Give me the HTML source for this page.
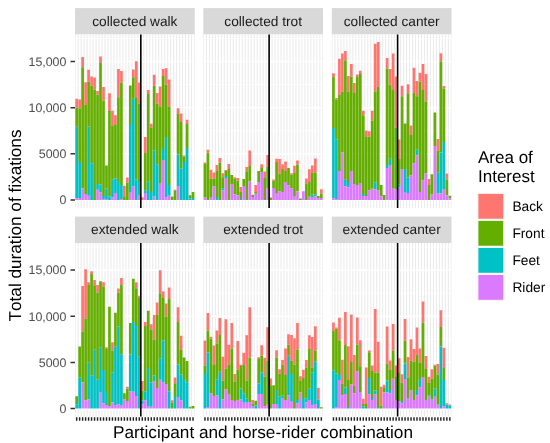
<!DOCTYPE html>
<html lang="en"><head><meta charset="utf-8"><title>Total duration of fixations by area of interest</title>
<style>html,body{margin:0;padding:0;background:#fff}body{width:550px;height:443px;overflow:hidden}svg{display:block}text{font-family:"Liberation Sans", Arial, Helvetica, sans-serif;font-kerning:none;text-rendering:geometricPrecision}</style></head><body>
<svg width="550" height="443" viewBox="0 0 550 443">
<rect width="550" height="443" fill="#fff"/>
<g>
<rect x="75" y="8.1" width="119.7" height="26.4" fill="#D9D9D9"/>
<text x="134.85" y="25.8" font-size="13.7" text-anchor="middle" fill="#1A1A1A">collected walk</text>
<rect x="75" y="34.5" width="119.7" height="173.5" fill="#EBEBEB"/>
<path d="M75 176.93h119.7M75 130.77h119.7M75 84.62h119.7M75 38.47h119.7" stroke="#FFFFFF" stroke-width="0.8" fill="none"/>
<path d="M75 200h119.7M75 153.85h119.7M75 107.7h119.7M75 61.55h119.7" stroke="#FFFFFF" stroke-width="1.6" fill="none"/>
<path d="M76.65 34.5V208M79.63 34.5V208M82.62 34.5V208M85.6 34.5V208M88.59 34.5V208M91.57 34.5V208M94.55 34.5V208M97.54 34.5V208M100.52 34.5V208M103.51 34.5V208M106.49 34.5V208M109.47 34.5V208M112.46 34.5V208M115.44 34.5V208M118.43 34.5V208M121.41 34.5V208M124.39 34.5V208M127.38 34.5V208M130.36 34.5V208M133.35 34.5V208M136.33 34.5V208M139.31 34.5V208M142.3 34.5V208M145.28 34.5V208M148.27 34.5V208M151.25 34.5V208M154.23 34.5V208M157.22 34.5V208M160.2 34.5V208M163.19 34.5V208M166.17 34.5V208M169.15 34.5V208M172.14 34.5V208M175.12 34.5V208M178.11 34.5V208M181.09 34.5V208M184.07 34.5V208M187.06 34.5V208M190.04 34.5V208M193.03 34.5V208" stroke="#FFFFFF" stroke-width="1.9" fill="none"/>
<path d="M75.31 98.8h2.68V107.5h-2.68zM78.29 99.5h2.68V108.2h-2.68zM81.28 57h2.68V67.2h-2.68zM84.26 82.3h2.68V104.9h-2.68zM87.25 69.8h2.68V81.5h-2.68zM90.23 76.5h2.68V85.7h-2.68zM93.21 77.4h2.68V89.5h-2.68zM96.2 91.1h2.68V94.7h-2.68zM99.18 56.6h2.68V63h-2.68zM102.17 87h2.68V100.5h-2.68zM108.13 93.3h2.68V111h-2.68zM111.12 110.8h2.68V125.9h-2.68zM114.1 115.2h2.68V124.3h-2.68zM117.09 68.9h2.68V97.3h-2.68zM120.07 71h2.68V82.8h-2.68zM123.05 185.8h2.68V197h-2.68zM126.04 177.6h2.68V182.8h-2.68zM132.01 69.6h2.68V77.2h-2.68zM134.99 61.3h2.68V97.3h-2.68zM137.97 82.4h2.68V103.4h-2.68zM140.96 197.3h2.68V200h-2.68zM143.94 137.1h2.68V153h-2.68zM146.93 90.1h2.68V94h-2.68zM149.91 123.7h2.68V127.5h-2.68zM152.89 74.8h2.68V85.7h-2.68zM155.88 92.9h2.68V103.8h-2.68zM158.86 86.4h2.68V107.1h-2.68zM161.85 68.9h2.68V75.9h-2.68zM164.83 68.3h2.68V84.6h-2.68zM167.81 79.4h2.68V106.7h-2.68zM173.78 189.7h2.68V190.3h-2.68zM176.77 108.2h2.68V114.1h-2.68zM179.75 113.5h2.68V121.9h-2.68zM182.73 155.6h2.68V156.5h-2.68zM185.72 119.7h2.68V124h-2.68z" fill="#FF7670"/>
<path d="M75.31 107.5h2.68V126.8h-2.68zM78.29 108.2h2.68V162.1h-2.68zM81.28 67.2h2.68V188.5h-2.68zM84.26 104.9h2.68V194h-2.68zM87.25 81.5h2.68V126.5h-2.68zM90.23 85.7h2.68V163.2h-2.68zM93.21 89.5h2.68V200h-2.68zM96.2 94.7h2.68V184h-2.68zM99.18 63h2.68V184.6h-2.68zM102.17 100.5h2.68V195.9h-2.68zM105.15 165.4h2.68V188.6h-2.68zM108.13 111h2.68V196.4h-2.68zM111.12 125.9h2.68V179.7h-2.68zM114.1 124.3h2.68V178.4h-2.68zM117.09 97.3h2.68V181.1h-2.68zM120.07 82.8h2.68V185h-2.68zM123.05 197h2.68V200h-2.68zM126.04 182.8h2.68V200h-2.68zM129.02 85.4h2.68V125.1h-2.68zM132.01 77.2h2.68V98.8h-2.68zM134.99 97.3h2.68V179.7h-2.68zM137.97 103.4h2.68V181.1h-2.68zM143.94 153h2.68V190.7h-2.68zM146.93 94h2.68V181.3h-2.68zM149.91 127.5h2.68V192h-2.68zM152.89 85.7h2.68V150.2h-2.68zM155.88 103.8h2.68V164.8h-2.68zM158.86 107.1h2.68V183.8h-2.68zM161.85 75.9h2.68V149.1h-2.68zM164.83 84.6h2.68V137.1h-2.68zM167.81 106.7h2.68V185h-2.68zM170.8 196.5h2.68V200h-2.68zM173.78 190.3h2.68V200h-2.68zM176.77 114.1h2.68V154.5h-2.68zM179.75 121.9h2.68V168.8h-2.68zM182.73 156.5h2.68V162.1h-2.68zM185.72 124h2.68V148h-2.68zM188.7 195.3h2.68V198.6h-2.68zM191.69 192h2.68V198h-2.68z" fill="#64AE00"/>
<path d="M75.31 126.8h2.68V198.5h-2.68zM78.29 162.1h2.68V198h-2.68zM87.25 126.5h2.68V195.8h-2.68zM90.23 163.2h2.68V200h-2.68zM96.2 184h2.68V189.8h-2.68zM99.18 184.6h2.68V192.6h-2.68zM102.17 195.9h2.68V199h-2.68zM105.15 188.6h2.68V199h-2.68zM108.13 196.4h2.68V200h-2.68zM111.12 179.7h2.68V197.5h-2.68zM114.1 178.4h2.68V193h-2.68zM117.09 181.1h2.68V200h-2.68zM120.07 185h2.68V199h-2.68zM129.02 125.1h2.68V192.8h-2.68zM132.01 98.8h2.68V186.5h-2.68zM134.99 179.7h2.68V200h-2.68zM137.97 181.1h2.68V195.8h-2.68zM143.94 190.7h2.68V193.1h-2.68zM146.93 181.3h2.68V200h-2.68zM149.91 192h2.68V200h-2.68zM152.89 150.2h2.68V196.4h-2.68zM155.88 164.8h2.68V200h-2.68zM161.85 149.1h2.68V160h-2.68zM164.83 137.1h2.68V197.2h-2.68zM167.81 185h2.68V195.8h-2.68zM176.77 154.5h2.68V186h-2.68zM179.75 168.8h2.68V200h-2.68zM182.73 162.1h2.68V200h-2.68zM185.72 148h2.68V200h-2.68zM188.7 198.6h2.68V200h-2.68zM191.69 198h2.68V200h-2.68z" fill="#00C1C5"/>
<path d="M75.31 198.5h2.68V200h-2.68zM78.29 198h2.68V200h-2.68zM81.28 188.5h2.68V200h-2.68zM84.26 194h2.68V200h-2.68zM87.25 195.8h2.68V200h-2.68zM96.2 189.8h2.68V200h-2.68zM99.18 192.6h2.68V200h-2.68zM102.17 199h2.68V200h-2.68zM105.15 199h2.68V200h-2.68zM111.12 197.5h2.68V200h-2.68zM114.1 193h2.68V200h-2.68zM120.07 199h2.68V200h-2.68zM129.02 192.8h2.68V200h-2.68zM132.01 186.5h2.68V200h-2.68zM137.97 195.8h2.68V200h-2.68zM143.94 193.1h2.68V200h-2.68zM152.89 196.4h2.68V200h-2.68zM158.86 183.8h2.68V200h-2.68zM161.85 160h2.68V200h-2.68zM164.83 197.2h2.68V200h-2.68zM167.81 195.8h2.68V200h-2.68zM176.77 186h2.68V200h-2.68z" fill="#DC7AFF"/>
<path d="M140.81 34.5V208" stroke="#000" stroke-width="1.6" fill="none"/>
</g>
<g>
<rect x="203.3" y="8.1" width="119.7" height="26.4" fill="#D9D9D9"/>
<text x="263.15" y="25.8" font-size="13.7" text-anchor="middle" fill="#1A1A1A">collected trot</text>
<rect x="203.3" y="34.5" width="119.7" height="173.5" fill="#EBEBEB"/>
<path d="M203.3 176.93h119.7M203.3 130.77h119.7M203.3 84.62h119.7M203.3 38.47h119.7" stroke="#FFFFFF" stroke-width="0.8" fill="none"/>
<path d="M203.3 200h119.7M203.3 153.85h119.7M203.3 107.7h119.7M203.3 61.55h119.7" stroke="#FFFFFF" stroke-width="1.6" fill="none"/>
<path d="M204.95 34.5V208M207.93 34.5V208M210.92 34.5V208M213.9 34.5V208M216.89 34.5V208M219.87 34.5V208M222.85 34.5V208M225.84 34.5V208M228.82 34.5V208M231.81 34.5V208M234.79 34.5V208M237.77 34.5V208M240.76 34.5V208M243.74 34.5V208M246.73 34.5V208M249.71 34.5V208M252.69 34.5V208M255.68 34.5V208M258.66 34.5V208M261.65 34.5V208M264.63 34.5V208M267.61 34.5V208M270.6 34.5V208M273.58 34.5V208M276.57 34.5V208M279.55 34.5V208M282.53 34.5V208M285.52 34.5V208M288.5 34.5V208M291.49 34.5V208M294.47 34.5V208M297.45 34.5V208M300.44 34.5V208M303.42 34.5V208M306.41 34.5V208M309.39 34.5V208M312.37 34.5V208M315.36 34.5V208M318.34 34.5V208M321.33 34.5V208" stroke="#FFFFFF" stroke-width="1.9" fill="none"/>
<path d="M203.61 162.4h2.68V164.1h-2.68zM206.59 149.7h2.68V152.8h-2.68zM209.58 169.8h2.68V178.8h-2.68zM212.56 172.5h2.68V178.8h-2.68zM215.55 165h2.68V170.9h-2.68zM218.53 158.1h2.68V162.8h-2.68zM221.51 173.3h2.68V177.2h-2.68zM224.5 170h2.68V170.9h-2.68zM227.48 164.1h2.68V168.9h-2.68zM233.45 177.2h2.68V178.8h-2.68zM236.43 178.1h2.68V180.7h-2.68zM239.42 186.9h2.68V191.9h-2.68zM245.39 167h2.68V171.2h-2.68zM248.37 150.6h2.68V165.9h-2.68zM254.34 185h2.68V191.9h-2.68zM260.31 164.3h2.68V168h-2.68zM263.29 171.5h2.68V178.1h-2.68zM266.27 154.9h2.68V166.7h-2.68zM272.24 179.4h2.68V180.7h-2.68zM275.23 158.8h2.68V162h-2.68zM278.21 159.1h2.68V173.8h-2.68zM281.19 164.3h2.68V168.3h-2.68zM284.18 161.5h2.68V170.9h-2.68zM290.15 173.3h2.68V174.8h-2.68zM293.13 165.7h2.68V172.9h-2.68zM296.11 160.4h2.68V164.7h-2.68zM305.07 178.4h2.68V184h-2.68zM308.05 169.3h2.68V182h-2.68zM311.03 165.4h2.68V172.9h-2.68zM314.02 158.4h2.68V172.5h-2.68zM319.99 189.2h2.68V193.8h-2.68z" fill="#FF7670"/>
<path d="M203.61 164.1h2.68V197.4h-2.68zM206.59 152.8h2.68V200h-2.68zM209.58 178.8h2.68V197.7h-2.68zM212.56 178.8h2.68V186.6h-2.68zM215.55 170.9h2.68V197.1h-2.68zM218.53 162.8h2.68V200h-2.68zM221.51 177.2h2.68V188.2h-2.68zM224.5 170.9h2.68V176.1h-2.68zM227.48 168.9h2.68V200h-2.68zM230.47 175.1h2.68V184h-2.68zM233.45 178.8h2.68V194.5h-2.68zM236.43 180.7h2.68V195.5h-2.68zM239.42 191.9h2.68V199h-2.68zM242.4 179h2.68V186h-2.68zM245.39 171.2h2.68V200h-2.68zM248.37 165.9h2.68V181.6h-2.68zM251.35 194.7h2.68V197.1h-2.68zM254.34 191.9h2.68V193.8h-2.68zM257.32 170.9h2.68V182h-2.68zM260.31 168h2.68V171.9h-2.68zM263.29 178.1h2.68V200h-2.68zM266.27 166.7h2.68V187.9h-2.68zM269.26 197.4h2.68V200h-2.68zM272.24 180.7h2.68V187.9h-2.68zM275.23 162h2.68V193.8h-2.68zM278.21 173.8h2.68V191.2h-2.68zM281.19 168.3h2.68V191.9h-2.68zM284.18 170.9h2.68V182h-2.68zM287.16 168h2.68V185.3h-2.68zM290.15 174.8h2.68V188.6h-2.68zM293.13 172.9h2.68V196.8h-2.68zM296.11 164.7h2.68V191.2h-2.68zM299.1 198.4h2.68V200h-2.68zM305.07 184h2.68V200h-2.68zM308.05 182h2.68V196.8h-2.68zM311.03 172.9h2.68V194.5h-2.68zM314.02 172.5h2.68V194.7h-2.68zM317 196h2.68V198.5h-2.68zM319.99 193.8h2.68V198h-2.68z" fill="#64AE00"/>
<path d="M215.55 197.1h2.68V200h-2.68zM221.51 188.2h2.68V190.5h-2.68zM224.5 176.1h2.68V178.1h-2.68zM239.42 199h2.68V200h-2.68zM311.03 194.5h2.68V197.7h-2.68zM314.02 194.7h2.68V196.4h-2.68z" fill="#00C1C5"/>
<path d="M203.61 197.4h2.68V200h-2.68zM209.58 197.7h2.68V200h-2.68zM212.56 186.6h2.68V200h-2.68zM221.51 190.5h2.68V200h-2.68zM224.5 178.1h2.68V200h-2.68zM230.47 184h2.68V200h-2.68zM233.45 194.5h2.68V200h-2.68zM236.43 195.5h2.68V200h-2.68zM242.4 186h2.68V200h-2.68zM248.37 181.6h2.68V200h-2.68zM251.35 197.1h2.68V200h-2.68zM254.34 193.8h2.68V200h-2.68zM257.32 182h2.68V200h-2.68zM260.31 171.9h2.68V200h-2.68zM266.27 187.9h2.68V200h-2.68zM272.24 187.9h2.68V200h-2.68zM275.23 193.8h2.68V200h-2.68zM278.21 191.2h2.68V200h-2.68zM281.19 191.9h2.68V200h-2.68zM284.18 182h2.68V200h-2.68zM287.16 185.3h2.68V200h-2.68zM290.15 188.6h2.68V200h-2.68zM293.13 196.8h2.68V200h-2.68zM296.11 191.2h2.68V200h-2.68zM302.08 191.2h2.68V200h-2.68zM308.05 196.8h2.68V200h-2.68zM311.03 197.7h2.68V200h-2.68zM314.02 196.4h2.68V200h-2.68zM317 198.5h2.68V200h-2.68zM319.99 198h2.68V200h-2.68z" fill="#DC7AFF"/>
<path d="M269.11 34.5V208" stroke="#000" stroke-width="1.6" fill="none"/>
</g>
<g>
<rect x="331.8" y="8.1" width="119.7" height="26.4" fill="#D9D9D9"/>
<text x="391.65" y="25.8" font-size="13.7" text-anchor="middle" fill="#1A1A1A">collected canter</text>
<rect x="331.8" y="34.5" width="119.7" height="173.5" fill="#EBEBEB"/>
<path d="M331.8 176.93h119.7M331.8 130.77h119.7M331.8 84.62h119.7M331.8 38.47h119.7" stroke="#FFFFFF" stroke-width="0.8" fill="none"/>
<path d="M331.8 200h119.7M331.8 153.85h119.7M331.8 107.7h119.7M331.8 61.55h119.7" stroke="#FFFFFF" stroke-width="1.6" fill="none"/>
<path d="M333.45 34.5V208M336.43 34.5V208M339.42 34.5V208M342.4 34.5V208M345.39 34.5V208M348.37 34.5V208M351.35 34.5V208M354.34 34.5V208M357.32 34.5V208M360.31 34.5V208M363.29 34.5V208M366.27 34.5V208M369.26 34.5V208M372.24 34.5V208M375.23 34.5V208M378.21 34.5V208M381.19 34.5V208M384.18 34.5V208M387.16 34.5V208M390.15 34.5V208M393.13 34.5V208M396.11 34.5V208M399.1 34.5V208M402.08 34.5V208M405.07 34.5V208M408.05 34.5V208M411.03 34.5V208M414.02 34.5V208M417 34.5V208M419.99 34.5V208M422.97 34.5V208M425.95 34.5V208M428.94 34.5V208M431.92 34.5V208M434.91 34.5V208M437.89 34.5V208M440.87 34.5V208M443.86 34.5V208M446.84 34.5V208M449.83 34.5V208" stroke="#FFFFFF" stroke-width="1.9" fill="none"/>
<path d="M332.11 73.3h2.68V77h-2.68zM335.09 97.9h2.68V99.5h-2.68zM338.08 58.7h2.68V95.1h-2.68zM341.06 53.6h2.68V91.8h-2.68zM344.05 51h2.68V60.2h-2.68zM347.03 75.9h2.68V91.8h-2.68zM350.01 63.9h2.68V76.5h-2.68zM353 83.1h2.68V92.9h-2.68zM355.98 74.4h2.68V77h-2.68zM358.97 70.7h2.68V73.9h-2.68zM361.95 110.8h2.68V115.2h-2.68zM364.93 130.5h2.68V137.1h-2.68zM367.92 131.2h2.68V136.4h-2.68zM370.9 110.8h2.68V120.5h-2.68zM373.89 43.8h2.68V91.4h-2.68zM376.87 42.1h2.68V87h-2.68zM385.82 58h2.68V68.5h-2.68zM388.81 68.9h2.68V84.8h-2.68zM391.79 53.6h2.68V90.1h-2.68zM394.77 76.5h2.68V127.7h-2.68zM397.76 139.5h2.68V159h-2.68zM400.74 85.7h2.68V96.2h-2.68zM406.71 84.2h2.68V93.3h-2.68zM409.69 125.6h2.68V134.9h-2.68zM412.68 67.8h2.68V92.9h-2.68zM415.66 80.9h2.68V96.2h-2.68zM418.65 72.8h2.68V81.6h-2.68zM421.63 64.1h2.68V90.1h-2.68zM424.61 73.9h2.68V101.6h-2.68zM427.6 179h2.68V185.1h-2.68zM436.55 139h2.68V150.6h-2.68zM439.53 53.2h2.68V61.3h-2.68zM442.52 85.9h2.68V88.5h-2.68zM445.5 173.6h2.68V179.7h-2.68z" fill="#FF7670"/>
<path d="M332.11 77h2.68V128.1h-2.68zM335.09 99.5h2.68V139.3h-2.68zM338.08 95.1h2.68V171h-2.68zM341.06 91.8h2.68V152.5h-2.68zM344.05 60.2h2.68V179.7h-2.68zM347.03 91.8h2.68V181.9h-2.68zM350.01 76.5h2.68V171h-2.68zM353 92.9h2.68V184h-2.68zM355.98 77h2.68V185h-2.68zM358.97 73.9h2.68V182.9h-2.68zM361.95 115.2h2.68V193.9h-2.68zM364.93 137.1h2.68V195.9h-2.68zM367.92 136.4h2.68V190.3h-2.68zM370.9 120.5h2.68V188.7h-2.68zM373.89 91.4h2.68V182.2h-2.68zM376.87 87h2.68V190.5h-2.68zM379.85 185h2.68V196.6h-2.68zM382.84 195h2.68V200h-2.68zM385.82 68.5h2.68V165.1h-2.68zM388.81 84.8h2.68V158.8h-2.68zM391.79 90.1h2.68V188.7h-2.68zM394.77 127.7h2.68V189.4h-2.68zM397.76 159h2.68V184.8h-2.68zM400.74 96.2h2.68V168.9h-2.68zM403.73 123.5h2.68V169.1h-2.68zM406.71 93.3h2.68V177.6h-2.68zM409.69 134.9h2.68V175.2h-2.68zM412.68 92.9h2.68V163.3h-2.68zM415.66 96.2h2.68V149.7h-2.68zM418.65 81.6h2.68V192h-2.68zM421.63 90.1h2.68V180.2h-2.68zM424.61 101.6h2.68V173.4h-2.68zM427.6 185.1h2.68V200h-2.68zM430.58 174.3h2.68V194.6h-2.68zM433.57 112.6h2.68V146.1h-2.68zM436.55 150.6h2.68V172.8h-2.68zM439.53 61.3h2.68V152.6h-2.68zM442.52 88.5h2.68V142.1h-2.68zM445.5 179.7h2.68V195.4h-2.68zM448.49 195.8h2.68V198.6h-2.68z" fill="#64AE00"/>
<path d="M332.11 128.1h2.68V198.2h-2.68zM335.09 139.3h2.68V199h-2.68zM344.05 179.7h2.68V186.3h-2.68zM347.03 181.9h2.68V187.4h-2.68zM361.95 193.9h2.68V196.1h-2.68zM373.89 182.2h2.68V189.2h-2.68zM385.82 165.1h2.68V168h-2.68zM388.81 158.8h2.68V165.1h-2.68zM397.76 184.8h2.68V187.4h-2.68zM403.73 169.1h2.68V192.8h-2.68zM406.71 177.6h2.68V193h-2.68zM415.66 149.7h2.68V155.2h-2.68zM436.55 172.8h2.68V193.5h-2.68zM439.53 152.6h2.68V193.5h-2.68zM442.52 142.1h2.68V188.9h-2.68z" fill="#00C1C5"/>
<path d="M332.11 198.2h2.68V200h-2.68zM335.09 199h2.68V200h-2.68zM338.08 171h2.68V200h-2.68zM341.06 152.5h2.68V200h-2.68zM344.05 186.3h2.68V200h-2.68zM347.03 187.4h2.68V200h-2.68zM350.01 171h2.68V200h-2.68zM353 184h2.68V200h-2.68zM355.98 185h2.68V200h-2.68zM358.97 182.9h2.68V200h-2.68zM361.95 196.1h2.68V200h-2.68zM364.93 195.9h2.68V200h-2.68zM367.92 190.3h2.68V200h-2.68zM370.9 188.7h2.68V200h-2.68zM373.89 189.2h2.68V200h-2.68zM376.87 190.5h2.68V200h-2.68zM379.85 196.6h2.68V200h-2.68zM385.82 168h2.68V200h-2.68zM388.81 165.1h2.68V200h-2.68zM391.79 188.7h2.68V200h-2.68zM394.77 189.4h2.68V200h-2.68zM397.76 187.4h2.68V200h-2.68zM400.74 168.9h2.68V200h-2.68zM403.73 192.8h2.68V200h-2.68zM406.71 193h2.68V200h-2.68zM409.69 175.2h2.68V200h-2.68zM412.68 163.3h2.68V200h-2.68zM415.66 155.2h2.68V200h-2.68zM418.65 192h2.68V200h-2.68zM421.63 180.2h2.68V200h-2.68zM424.61 173.4h2.68V200h-2.68zM430.58 194.6h2.68V200h-2.68zM433.57 146.1h2.68V200h-2.68zM436.55 193.5h2.68V200h-2.68zM439.53 193.5h2.68V200h-2.68zM442.52 188.9h2.68V200h-2.68zM445.5 195.4h2.68V200h-2.68zM448.49 198.6h2.68V200h-2.68z" fill="#DC7AFF"/>
<path d="M397.61 34.5V208" stroke="#000" stroke-width="1.6" fill="none"/>
</g>
<text x="66.4" y="204.3" font-size="12.4" text-anchor="end" fill="#4D4D4D">0</text>
<text x="66.4" y="158.15" font-size="12.4" text-anchor="end" fill="#4D4D4D">5000</text>
<text x="66.4" y="112" font-size="12.4" text-anchor="end" fill="#4D4D4D">10,000</text>
<text x="66.4" y="65.85" font-size="12.4" text-anchor="end" fill="#4D4D4D">15,000</text>
<path d="M70.5 200h4.5M70.5 153.85h4.5M70.5 107.7h4.5M70.5 61.55h4.5" stroke="#333" stroke-width="1.5" fill="none"/>
<g>
<rect x="75" y="216.6" width="119.7" height="26.4" fill="#D9D9D9"/>
<text x="134.85" y="234.1" font-size="13.7" text-anchor="middle" fill="#1A1A1A">extended walk</text>
<rect x="75" y="243" width="119.7" height="173.5" fill="#EBEBEB"/>
<path d="M75 385.48h119.7M75 339.32h119.7M75 293.18h119.7M75 247.03h119.7" stroke="#FFFFFF" stroke-width="0.8" fill="none"/>
<path d="M75 408.55h119.7M75 362.4h119.7M75 316.25h119.7M75 270.1h119.7" stroke="#FFFFFF" stroke-width="1.6" fill="none"/>
<path d="M76.65 243V416.5M79.63 243V416.5M82.62 243V416.5M85.6 243V416.5M88.59 243V416.5M91.57 243V416.5M94.55 243V416.5M97.54 243V416.5M100.52 243V416.5M103.51 243V416.5M106.49 243V416.5M109.47 243V416.5M112.46 243V416.5M115.44 243V416.5M118.43 243V416.5M121.41 243V416.5M124.39 243V416.5M127.38 243V416.5M130.36 243V416.5M133.35 243V416.5M136.33 243V416.5M139.31 243V416.5M142.3 243V416.5M145.28 243V416.5M148.27 243V416.5M151.25 243V416.5M154.23 243V416.5M157.22 243V416.5M160.2 243V416.5M163.19 243V416.5M166.17 243V416.5M169.15 243V416.5M172.14 243V416.5M175.12 243V416.5M178.11 243V416.5M181.09 243V416.5M184.07 243V416.5M187.06 243V416.5M190.04 243V416.5M193.03 243V416.5" stroke="#FFFFFF" stroke-width="1.9" fill="none"/>
<path d="M81.28 286h2.68V331.8h-2.68zM84.26 269.2h2.68V318.7h-2.68zM87.25 282.3h2.68V284.9h-2.68zM90.23 271.2h2.68V274h-2.68zM93.21 279.9h2.68V285.3h-2.68zM96.2 284.9h2.68V292.5h-2.68zM102.17 282.3h2.68V286.7h-2.68zM105.15 347.3h2.68V349h-2.68zM111.12 342.3h2.68V350.6h-2.68zM117.09 288.6h2.68V292.5h-2.68zM120.07 277.9h2.68V284.9h-2.68zM126.04 386.8h2.68V388.8h-2.68zM134.99 282.3h2.68V288.2h-2.68zM137.97 295.8h2.68V298h-2.68zM140.96 381h2.68V390.4h-2.68zM143.94 322h2.68V325.9h-2.68zM149.91 324.2h2.68V329.6h-2.68zM152.89 315h2.68V339.5h-2.68zM155.88 302.4h2.68V315h-2.68zM158.86 270.3h2.68V293.2h-2.68zM161.85 291.5h2.68V298h-2.68zM164.83 303.5h2.68V316.5h-2.68zM167.81 287.5h2.68V299.1h-2.68zM170.8 400.2h2.68V402.6h-2.68zM173.78 377.4h2.68V383.9h-2.68zM176.77 307.2h2.68V322h-2.68zM179.75 335.8h2.68V350.1h-2.68z" fill="#FF7670"/>
<path d="M75.31 396.2h2.68V404.2h-2.68zM78.29 346.4h2.68V377.7h-2.68zM81.28 331.8h2.68V382.6h-2.68zM84.26 318.7h2.68V400.5h-2.68zM87.25 284.9h2.68V362.8h-2.68zM90.23 274h2.68V375.8h-2.68zM93.21 285.3h2.68V349.8h-2.68zM96.2 292.5h2.68V379.8h-2.68zM99.18 281.2h2.68V347.8h-2.68zM102.17 286.7h2.68V370h-2.68zM105.15 349h2.68V392h-2.68zM108.13 306.7h2.68V405.9h-2.68zM111.12 350.6h2.68V372.5h-2.68zM114.1 312.8h2.68V346.8h-2.68zM117.09 292.5h2.68V326.4h-2.68zM120.07 284.9h2.68V354.3h-2.68zM123.05 393.3h2.68V399.3h-2.68zM126.04 388.8h2.68V401h-2.68zM129.02 323.1h2.68V354.6h-2.68zM132.01 278.8h2.68V322h-2.68zM134.99 288.2h2.68V325.9h-2.68zM137.97 298h2.68V356.3h-2.68zM140.96 390.4h2.68V400.5h-2.68zM143.94 325.9h2.68V391.2h-2.68zM146.93 310.7h2.68V368h-2.68zM149.91 329.6h2.68V382.6h-2.68zM152.89 339.5h2.68V375.4h-2.68zM155.88 315h2.68V388h-2.68zM158.86 293.2h2.68V358.7h-2.68zM161.85 298h2.68V340.6h-2.68zM164.83 316.5h2.68V384h-2.68zM167.81 299.1h2.68V391.2h-2.68zM170.8 402.6h2.68V408.55h-2.68zM173.78 383.9h2.68V396.9h-2.68zM176.77 322h2.68V364.4h-2.68zM179.75 350.1h2.68V374.5h-2.68zM182.73 357.6h2.68V379h-2.68zM185.72 361.1h2.68V382.3h-2.68zM188.7 406.8h2.68V408.55h-2.68zM191.69 405.9h2.68V408.55h-2.68z" fill="#64AE00"/>
<path d="M75.31 404.2h2.68V408.55h-2.68zM78.29 377.7h2.68V408.55h-2.68zM87.25 362.8h2.68V399.3h-2.68zM90.23 375.8h2.68V408.55h-2.68zM93.21 349.8h2.68V408.55h-2.68zM96.2 379.8h2.68V408.55h-2.68zM99.18 347.8h2.68V392.8h-2.68zM102.17 370h2.68V403.4h-2.68zM105.15 392h2.68V405h-2.68zM111.12 372.5h2.68V402.6h-2.68zM114.1 346.8h2.68V405h-2.68zM117.09 326.4h2.68V404.2h-2.68zM120.07 354.3h2.68V405h-2.68zM129.02 354.6h2.68V391.2h-2.68zM132.01 322h2.68V391.7h-2.68zM134.99 325.9h2.68V396.1h-2.68zM137.97 356.3h2.68V408.55h-2.68zM140.96 400.5h2.68V404.2h-2.68zM143.94 391.2h2.68V400.2h-2.68zM146.93 368h2.68V406.7h-2.68zM149.91 382.6h2.68V406.7h-2.68zM152.89 375.4h2.68V381.5h-2.68zM158.86 358.7h2.68V379.8h-2.68zM161.85 340.6h2.68V382.6h-2.68zM167.81 391.2h2.68V408.55h-2.68zM173.78 396.9h2.68V408.55h-2.68zM176.77 364.4h2.68V396.9h-2.68zM179.75 374.5h2.68V400.5h-2.68zM182.73 379h2.68V408.55h-2.68zM185.72 382.3h2.68V408.55h-2.68z" fill="#00C1C5"/>
<path d="M81.28 382.6h2.68V408.55h-2.68zM84.26 400.5h2.68V408.55h-2.68zM87.25 399.3h2.68V408.55h-2.68zM99.18 392.8h2.68V408.55h-2.68zM102.17 403.4h2.68V408.55h-2.68zM105.15 405h2.68V408.55h-2.68zM108.13 405.9h2.68V408.55h-2.68zM111.12 402.6h2.68V408.55h-2.68zM114.1 405h2.68V408.55h-2.68zM117.09 404.2h2.68V408.55h-2.68zM120.07 405h2.68V408.55h-2.68zM123.05 399.3h2.68V408.55h-2.68zM126.04 401h2.68V408.55h-2.68zM129.02 391.2h2.68V408.55h-2.68zM132.01 391.7h2.68V408.55h-2.68zM134.99 396.1h2.68V408.55h-2.68zM140.96 404.2h2.68V408.55h-2.68zM143.94 400.2h2.68V408.55h-2.68zM146.93 406.7h2.68V408.55h-2.68zM149.91 406.7h2.68V408.55h-2.68zM152.89 381.5h2.68V408.55h-2.68zM155.88 388h2.68V408.55h-2.68zM158.86 379.8h2.68V408.55h-2.68zM161.85 382.6h2.68V408.55h-2.68zM164.83 384h2.68V408.55h-2.68zM176.77 396.9h2.68V408.55h-2.68zM179.75 400.5h2.68V408.55h-2.68z" fill="#DC7AFF"/>
<path d="M140.81 243V416.5" stroke="#000" stroke-width="1.6" fill="none"/>
<path d="M76.65 417.2v3.6M79.63 417.2v3.6M82.62 417.2v3.6M85.6 417.2v3.6M88.59 417.2v3.6M91.57 417.2v3.6M94.55 417.2v3.6M97.54 417.2v3.6M100.52 417.2v3.6M103.51 417.2v3.6M106.49 417.2v3.6M109.47 417.2v3.6M112.46 417.2v3.6M115.44 417.2v3.6M118.43 417.2v3.6M121.41 417.2v3.6M124.39 417.2v3.6M127.38 417.2v3.6M130.36 417.2v3.6M133.35 417.2v3.6M136.33 417.2v3.6M139.31 417.2v3.6M142.3 417.2v3.6M145.28 417.2v3.6M148.27 417.2v3.6M151.25 417.2v3.6M154.23 417.2v3.6M157.22 417.2v3.6M160.2 417.2v3.6M163.19 417.2v3.6M166.17 417.2v3.6M169.15 417.2v3.6M172.14 417.2v3.6M175.12 417.2v3.6M178.11 417.2v3.6M181.09 417.2v3.6M184.07 417.2v3.6M187.06 417.2v3.6M190.04 417.2v3.6M193.03 417.2v3.6" stroke="#222" stroke-width="1.45" fill="none"/>
</g>
<g>
<rect x="203.3" y="216.6" width="119.7" height="26.4" fill="#D9D9D9"/>
<text x="263.15" y="234.1" font-size="13.7" text-anchor="middle" fill="#1A1A1A">extended trot</text>
<rect x="203.3" y="243" width="119.7" height="173.5" fill="#EBEBEB"/>
<path d="M203.3 385.48h119.7M203.3 339.32h119.7M203.3 293.18h119.7M203.3 247.03h119.7" stroke="#FFFFFF" stroke-width="0.8" fill="none"/>
<path d="M203.3 408.55h119.7M203.3 362.4h119.7M203.3 316.25h119.7M203.3 270.1h119.7" stroke="#FFFFFF" stroke-width="1.6" fill="none"/>
<path d="M204.95 243V416.5M207.93 243V416.5M210.92 243V416.5M213.9 243V416.5M216.89 243V416.5M219.87 243V416.5M222.85 243V416.5M225.84 243V416.5M228.82 243V416.5M231.81 243V416.5M234.79 243V416.5M237.77 243V416.5M240.76 243V416.5M243.74 243V416.5M246.73 243V416.5M249.71 243V416.5M252.69 243V416.5M255.68 243V416.5M258.66 243V416.5M261.65 243V416.5M264.63 243V416.5M267.61 243V416.5M270.6 243V416.5M273.58 243V416.5M276.57 243V416.5M279.55 243V416.5M282.53 243V416.5M285.52 243V416.5M288.5 243V416.5M291.49 243V416.5M294.47 243V416.5M297.45 243V416.5M300.44 243V416.5M303.42 243V416.5M306.41 243V416.5M309.39 243V416.5M312.37 243V416.5M315.36 243V416.5M318.34 243V416.5M321.33 243V416.5" stroke="#FFFFFF" stroke-width="1.9" fill="none"/>
<path d="M203.61 340.4h2.68V365.4h-2.68zM206.59 313.1h2.68V330.5h-2.68zM209.58 336.7h2.68V338.8h-2.68zM212.56 345.4h2.68V365h-2.68zM215.55 330.5h2.68V343.6h-2.68zM218.53 317.9h2.68V334.9h-2.68zM221.51 356.7h2.68V380.5h-2.68zM224.5 319.2h2.68V368.6h-2.68zM227.48 344.7h2.68V364.4h-2.68zM230.47 322.9h2.68V348.4h-2.68zM233.45 374h2.68V381.6h-2.68zM236.43 341h2.68V369.7h-2.68zM239.42 364.8h2.68V366h-2.68zM242.4 352.8h2.68V365h-2.68zM245.39 335.3h2.68V380.5h-2.68zM248.37 307.2h2.68V357.6h-2.68zM251.35 400.1h2.68V403.5h-2.68zM257.32 357.2h2.68V358.9h-2.68zM260.31 345.2h2.68V355.6h-2.68zM263.29 357.8h2.68V376.6h-2.68zM266.27 327.3h2.68V361h-2.68zM269.26 378.4h2.68V385.2h-2.68zM275.23 350.2h2.68V357.4h-2.68zM278.21 369.3h2.68V373.7h-2.68zM281.19 360h2.68V364.8h-2.68zM284.18 348.4h2.68V375.1h-2.68zM287.16 334.3h2.68V344.7h-2.68zM290.15 334.9h2.68V360.6h-2.68zM293.13 338.2h2.68V364.8h-2.68zM296.11 322.9h2.68V349.7h-2.68zM299.1 376.2h2.68V381.1h-2.68zM302.08 369.7h2.68V378h-2.68zM305.07 360h2.68V367.8h-2.68zM308.05 335.3h2.68V349.1h-2.68zM311.03 337.1h2.68V367.6h-2.68zM314.02 326.2h2.68V350.6h-2.68zM317 387.7h2.68V399.7h-2.68z" fill="#FF7670"/>
<path d="M203.61 365.4h2.68V374h-2.68zM206.59 330.5h2.68V352.4h-2.68zM209.58 338.8h2.68V393.3h-2.68zM212.56 365h2.68V396h-2.68zM215.55 343.6h2.68V379.3h-2.68zM218.53 334.9h2.68V371.8h-2.68zM221.51 380.5h2.68V399.4h-2.68zM224.5 368.6h2.68V389.3h-2.68zM227.48 364.4h2.68V394.7h-2.68zM230.47 348.4h2.68V400.1h-2.68zM233.45 381.6h2.68V401.8h-2.68zM236.43 369.7h2.68V400.1h-2.68zM239.42 366h2.68V388.5h-2.68zM242.4 365h2.68V393.3h-2.68zM245.39 380.5h2.68V398.7h-2.68zM248.37 357.6h2.68V402.1h-2.68zM251.35 403.5h2.68V406h-2.68zM254.34 400.8h2.68V405.5h-2.68zM257.32 358.9h2.68V383.4h-2.68zM260.31 355.6h2.68V372.5h-2.68zM263.29 376.6h2.68V406.2h-2.68zM266.27 361h2.68V404.8h-2.68zM269.26 385.2h2.68V408.55h-2.68zM272.24 385.3h2.68V404.1h-2.68zM275.23 357.4h2.68V389.9h-2.68zM278.21 373.7h2.68V396.7h-2.68zM281.19 364.8h2.68V395.3h-2.68zM284.18 375.1h2.68V400.1h-2.68zM287.16 344.7h2.68V355.7h-2.68zM290.15 360.6h2.68V373.9h-2.68zM293.13 364.8h2.68V408.55h-2.68zM296.11 349.7h2.68V400.1h-2.68zM299.1 381.1h2.68V392.6h-2.68zM302.08 378h2.68V398h-2.68zM305.07 367.8h2.68V398.7h-2.68zM308.05 349.1h2.68V388.8h-2.68zM311.03 367.6h2.68V372.2h-2.68zM314.02 350.6h2.68V361.8h-2.68zM319.99 407.3h2.68V408.55h-2.68z" fill="#64AE00"/>
<path d="M203.61 374h2.68V408.55h-2.68zM206.59 352.4h2.68V406.9h-2.68zM215.55 379.3h2.68V395.6h-2.68zM218.53 371.8h2.68V408.55h-2.68zM239.42 388.5h2.68V399.4h-2.68zM242.4 393.3h2.68V402.8h-2.68zM245.39 398.7h2.68V402.8h-2.68zM254.34 405.5h2.68V408.55h-2.68zM257.32 383.4h2.68V394h-2.68zM260.31 372.5h2.68V394h-2.68zM275.23 389.9h2.68V404.1h-2.68zM278.21 396.7h2.68V408.55h-2.68zM281.19 395.3h2.68V398h-2.68zM287.16 355.7h2.68V395.3h-2.68zM290.15 373.9h2.68V401.8h-2.68zM296.11 400.1h2.68V403.2h-2.68zM302.08 398h2.68V408.55h-2.68zM305.07 398.7h2.68V402.4h-2.68zM308.05 388.8h2.68V400.1h-2.68zM311.03 372.2h2.68V405.5h-2.68zM314.02 361.8h2.68V404.1h-2.68zM317 399.7h2.68V408.55h-2.68z" fill="#00C1C5"/>
<path d="M206.59 406.9h2.68V408.55h-2.68zM209.58 393.3h2.68V408.55h-2.68zM212.56 396h2.68V408.55h-2.68zM215.55 395.6h2.68V408.55h-2.68zM221.51 399.4h2.68V408.55h-2.68zM224.5 389.3h2.68V408.55h-2.68zM227.48 394.7h2.68V408.55h-2.68zM230.47 400.1h2.68V408.55h-2.68zM233.45 401.8h2.68V408.55h-2.68zM236.43 400.1h2.68V408.55h-2.68zM239.42 399.4h2.68V408.55h-2.68zM242.4 402.8h2.68V408.55h-2.68zM245.39 402.8h2.68V408.55h-2.68zM248.37 402.1h2.68V408.55h-2.68zM251.35 406h2.68V408.55h-2.68zM257.32 394h2.68V408.55h-2.68zM260.31 394h2.68V408.55h-2.68zM263.29 406.2h2.68V408.55h-2.68zM266.27 404.8h2.68V408.55h-2.68zM272.24 404.1h2.68V408.55h-2.68zM275.23 404.1h2.68V408.55h-2.68zM281.19 398h2.68V408.55h-2.68zM284.18 400.1h2.68V408.55h-2.68zM287.16 395.3h2.68V408.55h-2.68zM290.15 401.8h2.68V408.55h-2.68zM296.11 403.2h2.68V408.55h-2.68zM299.1 392.6h2.68V408.55h-2.68zM305.07 402.4h2.68V408.55h-2.68zM308.05 400.1h2.68V408.55h-2.68zM311.03 405.5h2.68V408.55h-2.68zM314.02 404.1h2.68V408.55h-2.68z" fill="#DC7AFF"/>
<path d="M269.11 243V416.5" stroke="#000" stroke-width="1.6" fill="none"/>
<path d="M204.95 417.2v3.6M207.93 417.2v3.6M210.92 417.2v3.6M213.9 417.2v3.6M216.89 417.2v3.6M219.87 417.2v3.6M222.85 417.2v3.6M225.84 417.2v3.6M228.82 417.2v3.6M231.81 417.2v3.6M234.79 417.2v3.6M237.77 417.2v3.6M240.76 417.2v3.6M243.74 417.2v3.6M246.73 417.2v3.6M249.71 417.2v3.6M252.69 417.2v3.6M255.68 417.2v3.6M258.66 417.2v3.6M261.65 417.2v3.6M264.63 417.2v3.6M267.61 417.2v3.6M270.6 417.2v3.6M273.58 417.2v3.6M276.57 417.2v3.6M279.55 417.2v3.6M282.53 417.2v3.6M285.52 417.2v3.6M288.5 417.2v3.6M291.49 417.2v3.6M294.47 417.2v3.6M297.45 417.2v3.6M300.44 417.2v3.6M303.42 417.2v3.6M306.41 417.2v3.6M309.39 417.2v3.6M312.37 417.2v3.6M315.36 417.2v3.6M318.34 417.2v3.6M321.33 417.2v3.6" stroke="#222" stroke-width="1.45" fill="none"/>
</g>
<g>
<rect x="331.8" y="216.6" width="119.7" height="26.4" fill="#D9D9D9"/>
<text x="391.65" y="234.1" font-size="13.7" text-anchor="middle" fill="#1A1A1A">extended canter</text>
<rect x="331.8" y="243" width="119.7" height="173.5" fill="#EBEBEB"/>
<path d="M331.8 385.48h119.7M331.8 339.32h119.7M331.8 293.18h119.7M331.8 247.03h119.7" stroke="#FFFFFF" stroke-width="0.8" fill="none"/>
<path d="M331.8 408.55h119.7M331.8 362.4h119.7M331.8 316.25h119.7M331.8 270.1h119.7" stroke="#FFFFFF" stroke-width="1.6" fill="none"/>
<path d="M333.45 243V416.5M336.43 243V416.5M339.42 243V416.5M342.4 243V416.5M345.39 243V416.5M348.37 243V416.5M351.35 243V416.5M354.34 243V416.5M357.32 243V416.5M360.31 243V416.5M363.29 243V416.5M366.27 243V416.5M369.26 243V416.5M372.24 243V416.5M375.23 243V416.5M378.21 243V416.5M381.19 243V416.5M384.18 243V416.5M387.16 243V416.5M390.15 243V416.5M393.13 243V416.5M396.11 243V416.5M399.1 243V416.5M402.08 243V416.5M405.07 243V416.5M408.05 243V416.5M411.03 243V416.5M414.02 243V416.5M417 243V416.5M419.99 243V416.5M422.97 243V416.5M425.95 243V416.5M428.94 243V416.5M431.92 243V416.5M434.91 243V416.5M437.89 243V416.5M440.87 243V416.5M443.86 243V416.5M446.84 243V416.5M449.83 243V416.5" stroke="#FFFFFF" stroke-width="1.9" fill="none"/>
<path d="M332.11 322.6h2.68V330.9h-2.68zM335.09 327.6h2.68V328.7h-2.68zM338.08 317.8h2.68V340.3h-2.68zM341.06 359.8h2.68V383.8h-2.68zM344.05 311.9h2.68V345.1h-2.68zM347.03 346.2h2.68V379.9h-2.68zM350.01 314.5h2.68V362.1h-2.68zM353 354.9h2.68V385.9h-2.68zM355.98 317.4h2.68V344.4h-2.68zM358.97 340.3h2.68V366.2h-2.68zM361.95 398.7h2.68V404.1h-2.68zM364.93 367.6h2.68V404.1h-2.68zM367.92 350.5h2.68V352.3h-2.68zM370.9 365.6h2.68V371.1h-2.68zM373.89 309.1h2.68V372.4h-2.68zM376.87 341.8h2.68V372.8h-2.68zM379.85 386.8h2.68V405.5h-2.68zM382.84 384.7h2.68V387.9h-2.68zM385.82 326.5h2.68V363.6h-2.68zM388.81 360.4h2.68V370.1h-2.68zM391.79 323.9h2.68V350.5h-2.68zM394.77 365.4h2.68V377h-2.68zM397.76 358.2h2.68V372.3h-2.68zM400.74 374.2h2.68V382.7h-2.68zM403.73 318.9h2.68V340.7h-2.68zM406.71 357.1h2.68V377.5h-2.68zM409.69 339.2h2.68V360.4h-2.68zM412.68 349h2.68V361.5h-2.68zM415.66 327.6h2.68V354.9h-2.68zM418.65 348.4h2.68V362.6h-2.68zM421.63 301.5h2.68V322.6h-2.68zM424.61 356h2.68V369h-2.68zM427.6 376.7h2.68V383h-2.68zM430.58 369.2h2.68V378.8h-2.68zM433.57 364.7h2.68V365.7h-2.68zM436.55 364.1h2.68V374.4h-2.68zM439.53 310.2h2.68V327h-2.68zM442.52 347.7h2.68V368h-2.68zM445.5 403.2h2.68V404.8h-2.68zM448.49 404.6h2.68V405.5h-2.68z" fill="#FF7670"/>
<path d="M332.11 330.9h2.68V370.3h-2.68zM335.09 328.7h2.68V373.6h-2.68zM338.08 340.3h2.68V375h-2.68zM341.06 383.8h2.68V395.3h-2.68zM344.05 345.1h2.68V387.5h-2.68zM347.03 379.9h2.68V407h-2.68zM350.01 362.1h2.68V384.5h-2.68zM353 385.9h2.68V393.3h-2.68zM355.98 344.4h2.68V371.5h-2.68zM358.97 366.2h2.68V392h-2.68zM361.95 404.1h2.68V406.2h-2.68zM364.93 404.1h2.68V408.55h-2.68zM367.92 352.3h2.68V378h-2.68zM370.9 371.1h2.68V398h-2.68zM373.89 372.4h2.68V390.6h-2.68zM376.87 372.8h2.68V406.9h-2.68zM379.85 405.5h2.68V408.55h-2.68zM382.84 387.9h2.68V392.6h-2.68zM385.82 363.6h2.68V380.4h-2.68zM388.81 370.1h2.68V389.9h-2.68zM391.79 350.5h2.68V378.7h-2.68zM394.77 377h2.68V400.1h-2.68zM397.76 372.3h2.68V401.4h-2.68zM400.74 382.7h2.68V401h-2.68zM403.73 340.7h2.68V363.6h-2.68zM406.71 377.5h2.68V398.7h-2.68zM409.69 360.4h2.68V390.6h-2.68zM412.68 361.5h2.68V400.1h-2.68zM415.66 354.9h2.68V389.9h-2.68zM418.65 362.6h2.68V379h-2.68zM421.63 322.6h2.68V377.1h-2.68zM424.61 369h2.68V400.1h-2.68zM427.6 383h2.68V395.3h-2.68zM430.58 378.8h2.68V399.4h-2.68zM433.57 365.7h2.68V388.6h-2.68zM436.55 374.4h2.68V404.8h-2.68zM439.53 327h2.68V346.6h-2.68zM442.52 368h2.68V379.9h-2.68z" fill="#64AE00"/>
<path d="M332.11 370.3h2.68V408.55h-2.68zM335.09 373.6h2.68V407h-2.68zM338.08 375h2.68V380.1h-2.68zM344.05 387.5h2.68V394h-2.68zM347.03 407h2.68V408.55h-2.68zM361.95 406.2h2.68V408.55h-2.68zM367.92 378h2.68V394.3h-2.68zM370.9 398h2.68V400h-2.68zM373.89 390.6h2.68V394.3h-2.68zM376.87 406.9h2.68V408.55h-2.68zM385.82 380.4h2.68V392.6h-2.68zM388.81 389.9h2.68V393.4h-2.68zM400.74 401h2.68V403.2h-2.68zM403.73 363.6h2.68V379h-2.68zM415.66 389.9h2.68V395.3h-2.68zM418.65 379h2.68V387.2h-2.68zM427.6 395.3h2.68V396.7h-2.68zM430.58 399.4h2.68V400.8h-2.68zM433.57 388.6h2.68V396.7h-2.68zM439.53 346.6h2.68V408.55h-2.68zM442.52 379.9h2.68V406.2h-2.68zM445.5 404.8h2.68V408.55h-2.68zM448.49 405.5h2.68V408.55h-2.68z" fill="#00C1C5"/>
<path d="M335.09 407h2.68V408.55h-2.68zM338.08 380.1h2.68V408.55h-2.68zM341.06 395.3h2.68V408.55h-2.68zM344.05 394h2.68V408.55h-2.68zM350.01 384.5h2.68V408.55h-2.68zM353 393.3h2.68V408.55h-2.68zM355.98 371.5h2.68V408.55h-2.68zM358.97 392h2.68V408.55h-2.68zM367.92 394.3h2.68V408.55h-2.68zM370.9 400h2.68V408.55h-2.68zM373.89 394.3h2.68V408.55h-2.68zM382.84 392.6h2.68V408.55h-2.68zM385.82 392.6h2.68V408.55h-2.68zM388.81 393.4h2.68V408.55h-2.68zM391.79 378.7h2.68V408.55h-2.68zM394.77 400.1h2.68V408.55h-2.68zM397.76 401.4h2.68V408.55h-2.68zM400.74 403.2h2.68V408.55h-2.68zM403.73 379h2.68V408.55h-2.68zM406.71 398.7h2.68V408.55h-2.68zM409.69 390.6h2.68V408.55h-2.68zM412.68 400.1h2.68V408.55h-2.68zM415.66 395.3h2.68V408.55h-2.68zM418.65 387.2h2.68V408.55h-2.68zM421.63 377.1h2.68V408.55h-2.68zM424.61 400.1h2.68V408.55h-2.68zM427.6 396.7h2.68V408.55h-2.68zM430.58 400.8h2.68V408.55h-2.68zM433.57 396.7h2.68V408.55h-2.68zM436.55 404.8h2.68V408.55h-2.68zM442.52 406.2h2.68V408.55h-2.68z" fill="#DC7AFF"/>
<path d="M397.61 243V416.5" stroke="#000" stroke-width="1.6" fill="none"/>
<path d="M333.45 417.2v3.6M336.43 417.2v3.6M339.42 417.2v3.6M342.4 417.2v3.6M345.39 417.2v3.6M348.37 417.2v3.6M351.35 417.2v3.6M354.34 417.2v3.6M357.32 417.2v3.6M360.31 417.2v3.6M363.29 417.2v3.6M366.27 417.2v3.6M369.26 417.2v3.6M372.24 417.2v3.6M375.23 417.2v3.6M378.21 417.2v3.6M381.19 417.2v3.6M384.18 417.2v3.6M387.16 417.2v3.6M390.15 417.2v3.6M393.13 417.2v3.6M396.11 417.2v3.6M399.1 417.2v3.6M402.08 417.2v3.6M405.07 417.2v3.6M408.05 417.2v3.6M411.03 417.2v3.6M414.02 417.2v3.6M417 417.2v3.6M419.99 417.2v3.6M422.97 417.2v3.6M425.95 417.2v3.6M428.94 417.2v3.6M431.92 417.2v3.6M434.91 417.2v3.6M437.89 417.2v3.6M440.87 417.2v3.6M443.86 417.2v3.6M446.84 417.2v3.6M449.83 417.2v3.6" stroke="#222" stroke-width="1.45" fill="none"/>
</g>
<text x="66.4" y="412.85" font-size="12.4" text-anchor="end" fill="#4D4D4D">0</text>
<text x="66.4" y="366.7" font-size="12.4" text-anchor="end" fill="#4D4D4D">5000</text>
<text x="66.4" y="320.55" font-size="12.4" text-anchor="end" fill="#4D4D4D">10,000</text>
<text x="66.4" y="274.4" font-size="12.4" text-anchor="end" fill="#4D4D4D">15,000</text>
<path d="M70.5 408.55h4.5M70.5 362.4h4.5M70.5 316.25h4.5M70.5 270.1h4.5" stroke="#333" stroke-width="1.5" fill="none"/>
<text x="263.0" y="437.9" font-size="17.2" text-anchor="middle" fill="#000">Participant and horse-rider combination</text>
<text transform="translate(21.3 225.5) rotate(-90)" font-size="17.2" text-anchor="middle" fill="#000">Total duration of fixations</text>
<text x="478" y="163.4" font-size="17" fill="#000">Area of</text>
<text x="478" y="181.9" font-size="17" fill="#000">Interest</text>
<rect x="477.2" y="192.7" width="27.2" height="27.2" fill="#F6F6F6"/>
<rect x="478.4" y="193.9" width="24.8" height="24.8" fill="#FF7670" stroke="#fff" stroke-width="0"/>
<text x="512.4" y="210.7" font-size="13.75" fill="#000">Back</text>
<rect x="477.2" y="219.73" width="27.2" height="27.2" fill="#F6F6F6"/>
<rect x="478.4" y="220.93" width="24.8" height="24.8" fill="#64AE00" stroke="#fff" stroke-width="0"/>
<text x="512.4" y="237.73" font-size="13.75" fill="#000">Front</text>
<rect x="477.2" y="246.76" width="27.2" height="27.2" fill="#F6F6F6"/>
<rect x="478.4" y="247.96" width="24.8" height="24.8" fill="#00C1C5" stroke="#fff" stroke-width="0"/>
<text x="512.4" y="264.76" font-size="13.75" fill="#000">Feet</text>
<rect x="477.2" y="273.79" width="27.2" height="27.2" fill="#F6F6F6"/>
<rect x="478.4" y="274.99" width="24.8" height="24.8" fill="#DC7AFF" stroke="#fff" stroke-width="0"/>
<text x="512.4" y="291.79" font-size="13.75" fill="#000">Rider</text>
</svg></body></html>
